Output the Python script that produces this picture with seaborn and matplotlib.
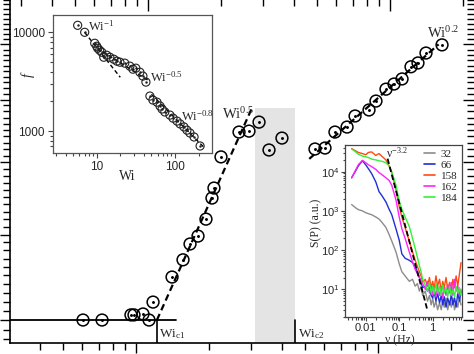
import matplotlib
matplotlib.use("Agg")
import matplotlib.pyplot as plt
import numpy as np
import pandas as pd
import seaborn as sns
from matplotlib.lines import Line2D
from matplotlib.ticker import FixedLocator, LogLocator, NullFormatter

sns.set_style("ticks")
plt.rcParams["font.family"] = ["Liberation Sans", "DejaVu Sans"]
plt.rcParams["mathtext.fontset"] = "custom"
plt.rcParams["mathtext.rm"] = "Liberation Serif"
plt.rcParams["mathtext.it"] = "Liberation Serif:italic"
plt.rcParams["mathtext.bf"] = "Liberation Serif:bold"
SERIF = ["Liberation Serif", "DejaVu Serif"]

# ---------- main panel: normalised pressure drop vs Wi ----------
wi_main = [6.04, 7.24, 9.53, 9.81, 10.69, 11.32, 11.76, 14.09, 15.64, 16.72,
           18.04, 19.46, 20.6, 21.0, 22.45, 26.65, 29.3, 32.24, 35.45, 40.1,
           54.9, 60.4, 66.4, 74.5, 80.4, 91.8, 98.1, 107.9, 116.5, 125.7,
           136.9, 146.3, 157.9, 183.9]
y_main = [1.0, 1.0, 1.011, 1.011, 1.013, 1.0, 1.039, 1.096, 1.137, 1.176,
          1.196, 1.240, 1.297, 1.325, 1.416, 1.493, 1.496, 1.525, 1.437, 1.474,
          1.44, 1.443, 1.493, 1.509, 1.545, 1.565, 1.595, 1.636, 1.654, 1.672,
          1.716, 1.730, 1.767, 1.798]
fit05_wi = [12.2, 30.2]
fit05_y = [1.0, 1.573]
fit02_wi = [52.0, 178.0]
fit02_y = [1.41, 1.80]
base_wi = [3.015, 14.6]
base_y = [1.0, 1.0]
wi_c = [12.2, 45.4]
shade_wi = [31.0, 45.4]
shade_top = 1.571
y_major = [1.0, 1.2, 1.4, 1.6, 1.8]
y_minor = list(np.round(np.arange(0.96, 1.99, 0.02), 2))

# ---------- inset 1: f vs Wi ----------
wi_in = [5.71, 7.02, 9.43, 10.0, 10.3, 10.9, 11.6, 12.3, 13.4, 14.7, 16.5,
         18.1, 19.8, 22.8, 26.5, 29.0, 31.6, 35.6, 38.9, 42.5, 47.8, 52.2,
         58.8, 64.3, 68.3, 74.1, 86.1, 94.3, 106, 116, 130, 142, 155, 175, 209]
f_in = [11770, 10000, 7743, 7222, 6888, 6580, 6280, 5590, 5860, 5590, 5340,
        5100, 4980, 4870, 4540, 4230, 4330, 3940, 3600, 3130, 2260, 2060,
        1960, 1790, 1670, 1560, 1450, 1350, 1260, 1180, 1100, 1020, 955, 870, 705]
fitm1_wi = [7.0, 20.0]
fitm1_f = [10000, 3500]
fitm05_wi = [12.0, 45.0]
fitm05_f = [6351, 3280]
fitm08_wi = [50.0, 240.0]
fitm08_f = [2350, 670]

# ---------- inset 2: pressure spectra ----------
nu = [0.0038, 0.005, 0.006, 0.008, 0.01, 0.012, 0.015, 0.02, 0.025, 0.03,
      0.04, 0.05, 0.06, 0.08, 0.1, 0.12, 0.15, 0.2, 0.25, 0.3,
      0.35, 0.4, 0.45, 0.5, 0.6, 0.7, 0.8, 0.9, 1.0, 1.1,
      1.25, 1.4, 1.6, 1.8, 2.0, 2.2, 2.5, 2.8, 3.2, 3.6,
      4.0, 4.5, 5.0, 5.6, 6.3, 7.0]
s_32 = [1450, 1200, 1080, 1000, 900, 850, 800, 700, 620, 520,
        380, 250, 170, 90, 45, 28, 22, 16, 18, 12,
        14, 9, 12, 7, 9, 5, 7, 4, 6, 3.5,
        5, 3, 4.5, 3, 5.5, 3.5, 6, 3, 5, 3.5,
        6, 3, 5, 3.5, 6, 4]
s_66 = [7000, 10500, 14000, 19000, 15000, 12000, 9000, 5500, 3100, 2500,
        1700, 1100, 800, 350, 180, 80, 62, 55, 48, 37,
        28, 20, 15, 11, 12, 9, 11, 7, 6, 9,
        5, 8, 4.5, 7, 4, 6.5, 3.5, 6, 4, 7.5,
        4, 6, 3.5, 8, 5, 9]
s_158 = [39000, 34000, 31000, 29000, 27000, 31000, 32000, 26000, 29000, 25000,
         20000, 14000, 9500, 3500, 1300, 700, 380, 170, 90, 55,
         38, 28, 22, 15, 18, 12, 20, 11, 16, 10,
         22, 12, 18, 9, 16, 11, 20, 10, 15, 9,
         18, 11, 22, 12, 25, 48]
s_162 = [7000, 11000, 15000, 19500, 17000, 15000, 13500, 11500, 9500, 8500,
         7000, 6000, 4500, 1900, 700, 350, 200, 90, 50, 32,
         25, 20, 16, 14, 10, 16, 8, 13, 7, 11,
         6.5, 12, 7, 10, 6, 11, 7, 13, 8, 15,
         7, 18, 9, 12, 7, 10]
s_184 = [38000, 32000, 28000, 25000, 24000, 23000, 21000, 20000, 19000, 18500,
         17000, 14000, 10000, 4500, 1800, 1100, 700, 400, 200, 110,
         65, 40, 28, 18, 13, 9, 15, 8, 12, 7.5,
         14, 8, 12, 7, 13, 8, 11, 6.5, 12, 7,
         10, 6.5, 12, 8, 11, 7]
spec_labels = ["32", "66", "158", "162", "184"]
spec_colors = ["#8c8c8c", "#1f2fd6", "#ff4a12", "#ff22ff", "#35f035"]
fit_nu = [0.045, 0.70]
fit_s = [21500, 2.86]

spec = pd.concat(
    [pd.DataFrame({"nu": nu, "S": s, "Wi": lab})
     for lab, s in zip(spec_labels, [s_32, s_66, s_158, s_162, s_184])],
    ignore_index=True)

# ---------- figure ----------
fig = plt.figure(figsize=(4.74, 3.54), dpi=100)
ax = fig.add_axes([10 / 474, 11 / 354, 465 / 474, 345 / 354])
ax.set_xscale("log")
ax.set_yscale("log")
ax.set_xlim(3.015, 251.7)
ax.set_ylim(0.9522, 1.987)

ax.fill_between(shade_wi, 0.9522, shade_top, color="#e4e4e4", lw=0, zorder=0)
ax.plot(base_wi, base_y, color="k", lw=1.3, zorder=2)
for w in wi_c:
    ax.plot([w, w], [0.9522, 1.0], color="k", lw=1.2, zorder=2)
ax.plot(fit05_wi, fit05_y, color="k", lw=1.6, dashes=(3, 1.8), zorder=2)
ax.plot(fit02_wi, fit02_y, color="k", lw=1.6, dashes=(3, 1.8), zorder=2)
sns.scatterplot(x=wi_main, y=y_main, ax=ax, s=72, marker="o", color="k",
                facecolor="none", edgecolor="k", linewidth=1.1, zorder=3,
                legend=False)
ax.scatter(wi_main, y_main, s=1.2, c="k", zorder=4)

ax.xaxis.set_major_locator(LogLocator(10))
ax.xaxis.set_minor_locator(LogLocator(10, subs=np.arange(2, 10)))
ax.yaxis.set_major_locator(FixedLocator(y_major))
ax.yaxis.set_minor_locator(FixedLocator(y_minor))
for a in (ax.xaxis, ax.yaxis):
    a.set_major_formatter(NullFormatter())
    a.set_minor_formatter(NullFormatter())
ax.tick_params(which="both", direction="out", top=False, right=False,
               color="k", width=1.0)
ax.tick_params(which="major", length=7.5)
ax.tick_params(which="minor", length=5)
ax.spines["top"].set_visible(False)
ax.spines["right"].set_visible(False)
for sp in ("left", "bottom"):
    ax.spines[sp].set_linewidth(1.2)
    ax.spines[sp].set_color("k")

top = ax.secondary_xaxis("top", functions=(lambda x: x / 1.121, lambda x: x * 1.121))
top.xaxis.set_major_locator(LogLocator(10))
top.xaxis.set_minor_locator(LogLocator(10, subs=np.arange(2, 10)))
top.xaxis.set_major_formatter(NullFormatter())
top.xaxis.set_minor_formatter(NullFormatter())
top.tick_params(which="both", direction="in", color="k", width=1.0)
top.tick_params(which="major", length=9)
top.tick_params(which="minor", length=5.5)

right = ax.secondary_yaxis("right")
right.yaxis.set_major_locator(FixedLocator(y_major))
right.yaxis.set_minor_locator(FixedLocator(y_minor))
right.yaxis.set_major_formatter(NullFormatter())
right.yaxis.set_minor_formatter(NullFormatter())
right.tick_params(which="both", direction="in", color="k", width=1.0)
right.tick_params(which="major", length=9)
right.tick_params(which="minor", length=6)

fig.text(222 / 474, 1 - 119 / 354, "Wi$^{0.5}$", family=SERIF, fontsize=10.5, va="baseline")
fig.text(427 / 474, 1 - 38 / 354, "Wi$^{0.2}$", family=SERIF, fontsize=10.5, va="baseline")
fig.text(159 / 474, 1 - 337 / 354, r"Wi$_{\rm c1}$", family=SERIF, fontsize=9.5, va="baseline")
fig.text(298 / 474, 1 - 337 / 354, r"Wi$_{\rm c2}$", family=SERIF, fontsize=9.5, va="baseline")

# ---------- inset 1 ----------
ax1 = fig.add_axes([53.3 / 474, 1 - 152.7 / 354, 158.4 / 474, 137.7 / 354])
ax1.set_facecolor("white")
ax1.set_xscale("log")
ax1.set_yscale("log")
ax1.set_xlim(2.79, 294)
ax1.set_ylim(603, 14970)
ax1.plot(fitm1_wi, fitm1_f, color="k", lw=1.0, dashes=(3, 2))
ax1.plot(fitm05_wi, fitm05_f, color="k", lw=1.0, dashes=(3, 2))
ax1.plot(fitm08_wi, fitm08_f, color="k", lw=1.0, dashes=(3, 2))
sns.scatterplot(x=wi_in, y=f_in, ax=ax1, s=34, marker="o", color="#222222",
                facecolor="none", edgecolor="#222222", linewidth=0.8,
                legend=False, zorder=3)
ax1.scatter(wi_in, f_in, s=0.6, c="#222222", zorder=4)
ax1.set_xticks([10, 100])
ax1.set_xticklabels(["10", "100"])
ax1.set_yticks([1000, 10000])
ax1.set_yticklabels(["1000", "10000"])
ax1.xaxis.set_minor_formatter(NullFormatter())
ax1.yaxis.set_minor_formatter(NullFormatter())
ax1.tick_params(which="both", direction="out", top=False, right=False,
                labelsize=8.5, color="#444444", width=0.8)
ax1.tick_params(which="major", length=3.5, pad=2.5)
ax1.tick_params(which="minor", length=2.2)
for sp in ax1.spines.values():
    sp.set_color("#555555")
    sp.set_linewidth(0.9)
ax1.text(-0.16, 0.564, "f", transform=ax1.transAxes, rotation=90, style="italic",
         family=SERIF, fontsize=10, ha="center", va="center")
ax1.text(0.465, -0.176, "Wi", transform=ax1.transAxes, family=SERIF,
         fontsize=10, ha="center", va="center")
fig.text(88 / 474, 1 - 31 / 354, "Wi$^{-1}$", family=SERIF, fontsize=9, va="baseline")
fig.text(150 / 474, 1 - 82 / 354, "Wi$^{-0.5}$", family=SERIF, fontsize=9, va="baseline")
fig.text(181 / 474, 1 - 121 / 354, "Wi$^{-0.8}$", family=SERIF, fontsize=9, va="baseline")

# ---------- inset 2 ----------
ax2 = fig.add_axes([345 / 474, 1 - 316.7 / 354, 116.7 / 474, 171.7 / 354])
ax2.set_facecolor("white")
ax2.set_xscale("log")
ax2.set_yscale("log")
sns.lineplot(data=spec, x="nu", y="S", hue="Wi", hue_order=spec_labels,
             palette=dict(zip(spec_labels, spec_colors)), estimator=None,
             sort=False, lw=1.0, ax=ax2, legend=False)
ax2.plot(fit_nu, fit_s, color="k", lw=1.3, dashes=(3, 1.6), zorder=5)
ax2.set_xlim(0.00241, 7.34)
ax2.set_ylim(2.0, 48000)
ax2.set_xticks([0.01, 0.1, 1])
ax2.set_xticklabels(["0.01", "0.1", "1"])
ax2.set_yticks([10, 100, 1000, 10000])
ax2.xaxis.set_minor_formatter(NullFormatter())
ax2.yaxis.set_minor_formatter(NullFormatter())
ax2.set_xlabel("")
ax2.set_ylabel("")
ax2.tick_params(which="both", direction="out", top=False, right=False,
                labelsize=8, color="#444444", width=0.8)
ax2.tick_params(which="major", length=3, pad=1.2)
ax2.tick_params(which="minor", length=1.8)
for sp in ax2.spines.values():
    sp.set_color("#444444")
    sp.set_linewidth(0.9)
ax2.text(-0.25, 0.546, "S(P) (a.u.)", transform=ax2.transAxes, rotation=90,
         family=SERIF, fontsize=8.5, ha="center", va="center")
ax2.text(0.47, -0.135, "ν (Hz)", transform=ax2.transAxes, family=SERIF,
         fontsize=8.5, ha="center", va="center")
fig.text(386 / 474, 1 - 158 / 354, "ν$^{-3.2}$", family=SERIF, fontsize=8.5, va="baseline")
handles = [Line2D([], [], color=c, lw=1.2) for c in spec_colors]
ax2.legend(handles, spec_labels, loc="upper right", frameon=False,
           prop={"family": SERIF, "size": 8}, handlelength=1.0,
           handletextpad=0.5, labelspacing=0.1, borderaxespad=0.2,
           borderpad=0.2)

fig.savefig("out.png", dpi=100)
